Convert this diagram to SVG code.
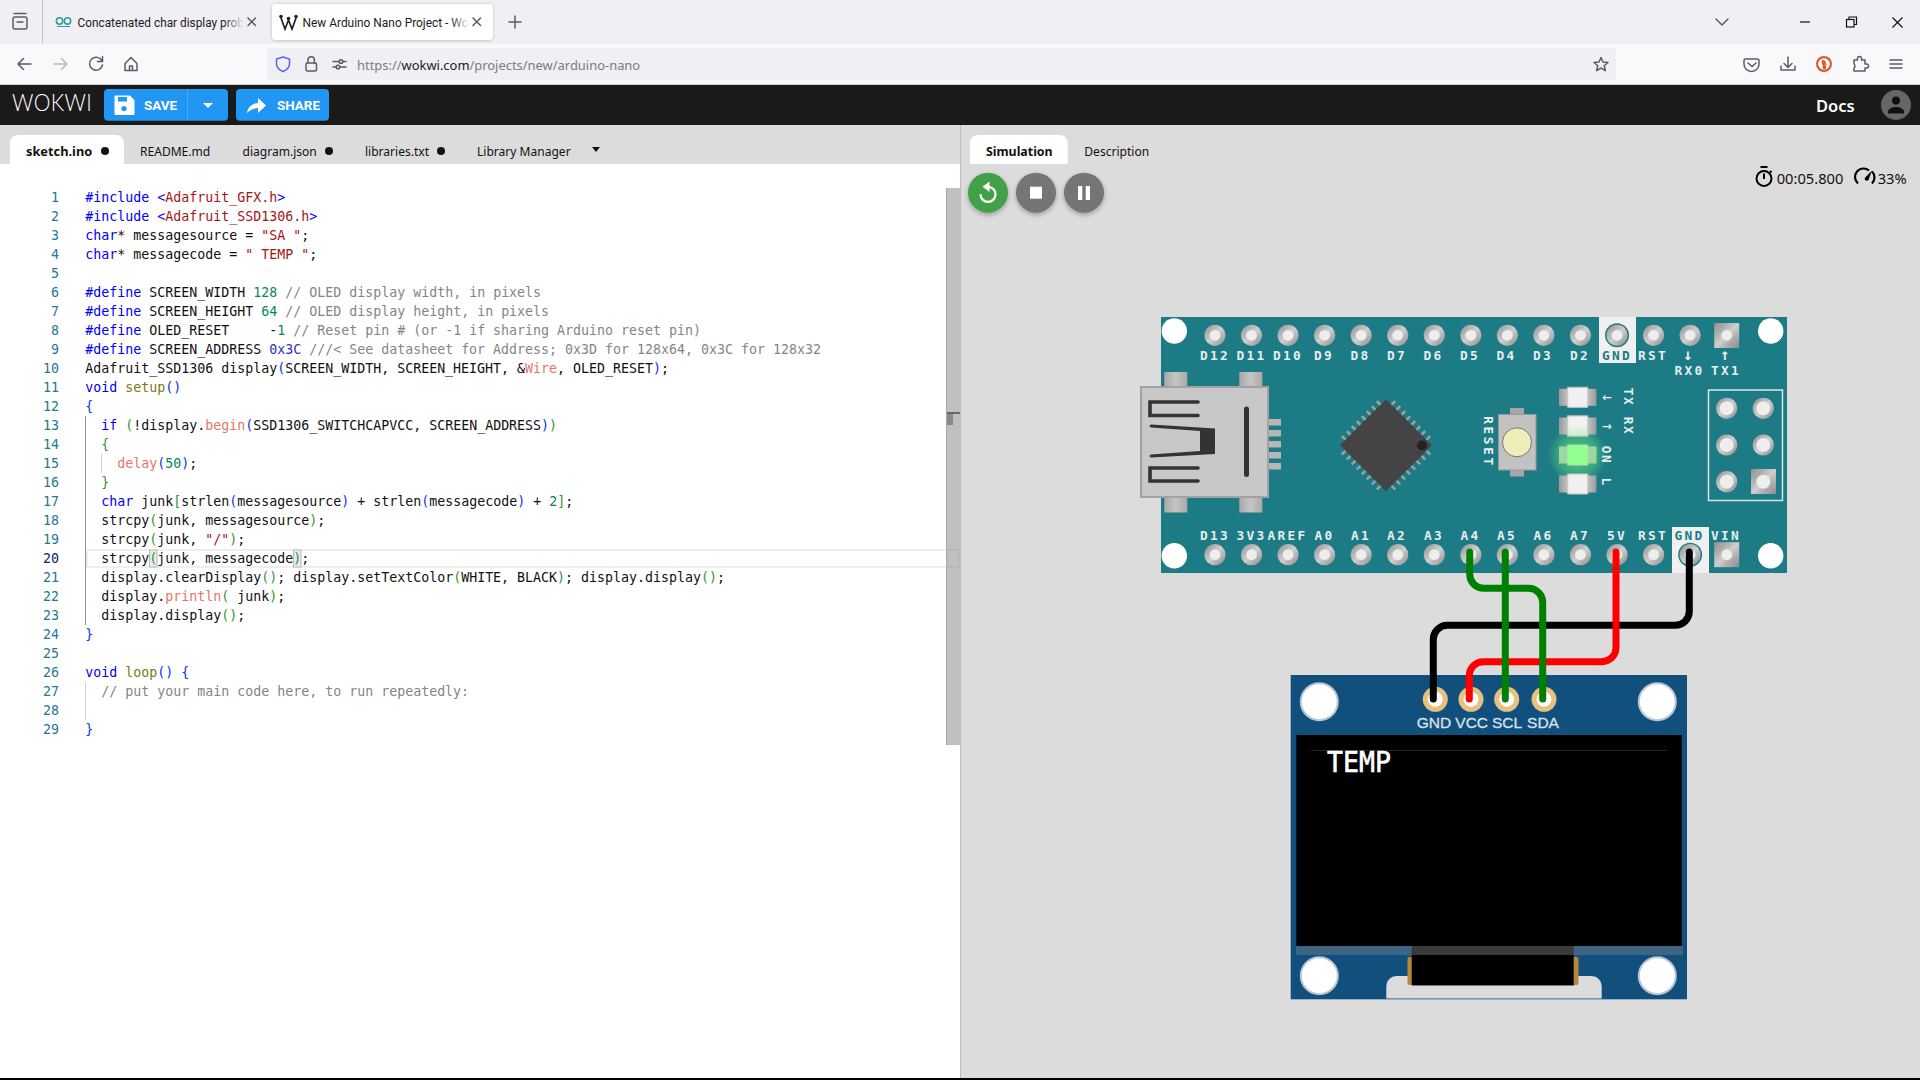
<svg xmlns="http://www.w3.org/2000/svg" width="1920" height="1080" viewBox="0 0 1920 1080">
<style>
.ui{font-family:"Noto Sans","Open Sans",sans-serif}
.tabt{font-family:Roboto,"Noto Sans",sans-serif;font-size:12.6px;fill:#1c1b22}
.wt{font-size:12.05px;fill:#111}
.wb{font-size:12.6px;font-weight:700;fill:#111}
.code{font-family:"DejaVu Sans Mono",monospace;font-size:13.29px;fill:#111;white-space:pre}
.ln{font-family:"DejaVu Sans Mono",monospace;font-size:13.29px;fill:#237893;text-anchor:end}
.k{fill:#0000ff}.s{fill:#a31515}.n{fill:#098658}.c{fill:#858585}.f{fill:#e8756a}.o{fill:#7a7a10}.b1{fill:#0431fa}.b2{fill:#319331}.h{fill:#3030c0}
.pl{font-family:"DejaVu Sans Mono",monospace;font-size:12.8px;font-weight:bold;letter-spacing:2.3px;fill:#e6eeee;text-anchor:middle}
.arw{font-family:"DejaVu Sans Mono",monospace;font-size:16px;fill:#e6eeee;text-anchor:middle}
.ol{font-family:"Liberation Sans",Arial,sans-serif;font-size:15.5px;fill:#d8e2ea;stroke:#d8e2ea;stroke-width:.3;text-anchor:middle}
.ico{fill:none;stroke:#5b5b66;stroke-width:1.5;stroke-linecap:round;stroke-linejoin:round}
.wire{fill:none;stroke-width:7;stroke-linecap:round;stroke-linejoin:round}
.usb{fill:none;stroke:#333;stroke-width:3.6;stroke-linecap:round}
.pad{fill:#e8c080}
.btxt{font-family:Roboto,"Noto Sans",sans-serif;font-size:13.4px;font-weight:bold;fill:#fff}
</style>
<defs>
<linearGradient id="metal" x1="0" y1="0" x2="1" y2="1"><stop offset="0" stop-color="#8e8e8e"/><stop offset=".5" stop-color="#cfcfcf"/><stop offset="1" stop-color="#8a8a8a"/></linearGradient>
<linearGradient id="tabmetal" x1="0" y1="0" x2="1" y2="0"><stop offset="0" stop-color="#a8a8a8"/><stop offset=".5" stop-color="#c6c6c6"/><stop offset="1" stop-color="#a8a8a8"/></linearGradient>
<linearGradient id="capL" x1="0" y1="0" x2="1" y2="0"><stop offset="0" stop-color="#9a9a9a"/><stop offset="1" stop-color="#c8c8c8"/></linearGradient>
<linearGradient id="capR" x1="0" y1="0" x2="1" y2="0"><stop offset="0" stop-color="#c8c8c8"/><stop offset="1" stop-color="#9a9a9a"/></linearGradient>
<linearGradient id="rxfade" x1="0" y1="0" x2="0" y2="1"><stop offset=".45" stop-color="#f2f2f2"/><stop offset="1" stop-color="#c8f0c8"/></linearGradient>
<radialGradient id="glow"><stop offset="0" stop-color="#80ff80" stop-opacity=".6"/><stop offset=".65" stop-color="#80ff80" stop-opacity=".3"/><stop offset="1" stop-color="#80ff80" stop-opacity="0"/></radialGradient>
<linearGradient id="fadeA" x1="0" y1="0" x2="1" y2="0"><stop offset="0" stop-color="#f0f0f4" stop-opacity="0"/><stop offset="1" stop-color="#f0f0f4"/></linearGradient>
<linearGradient id="fadeB" x1="0" y1="0" x2="1" y2="0"><stop offset="0" stop-color="#fff" stop-opacity="0"/><stop offset="1" stop-color="#fff"/></linearGradient>
<filter id="sh" x="-30%" y="-30%" width="160%" height="170%"><feDropShadow dx="0" dy="2" stdDeviation="2.5" flood-color="#000" flood-opacity=".3"/></filter>
<filter id="tsh" x="-5%" y="-20%" width="110%" height="150%"><feDropShadow dx="0" dy="0.5" stdDeviation="1.5" flood-color="#000" flood-opacity=".25"/></filter>
<g id="pin"><circle r="10.6" fill="url(#metal)"/><circle r="5.4" fill="#eeeeee"/></g>
<g id="bigpin"><circle r="10.6" fill="url(#metal)"/><circle r="7" fill="#eeeeee"/></g>
<g id="led"><rect x="-18.7" y="-8.5" width="10" height="17" fill="url(#capL)"/><rect x="8.7" y="-8.5" width="10" height="17" fill="url(#capR)"/><rect x="-10" y="-10" width="20" height="20" fill="#f0f0f0" stroke="#c6c6c6" stroke-width="1"/></g>
<rect id="sqpad" x="-12.5" y="-12.5" width="25" height="25" fill="url(#metal)"/>
</defs>

<!-- page background -->
<rect width="1920" height="1080" fill="#dcdcdc"/>
<rect y="1078" width="1920" height="2" fill="#000"/>

<!-- browser chrome -->
<g id="browser-tabs">
<rect width="1920" height="44" fill="#f0f0f4"/>
<path d="M42.5 0V44" stroke="#c6c6cc" stroke-width="1"/>
<g class="ico"><rect x="13" y="17" width="14" height="12" rx="2"/><path d="M14 13.5H26M17 22H23"/></g>
<g fill="none" stroke="#2a9aa0" stroke-width="1.5"><circle cx="59.5" cy="21" r="3.2"/><circle cx="67.5" cy="21" r="3.2"/></g>
<path d="M57 26.5H70" stroke="#2a9aa0" stroke-width="1"/>
<text x="77.5" y="27" class="tabt" textLength="166.5" lengthAdjust="spacingAndGlyphs">Concatenated char display prob</text>
<rect x="224" y="8" width="20" height="28" fill="url(#fadeA)"/>
<path d="M248 18l7.5 7.5M255.5 18l-7.5 7.5" class="ico"/>
<rect x="272" y="4" width="221" height="36" rx="4" fill="#fff" filter="url(#tsh)"/>
<g fill="none" stroke="#222" stroke-width="1.7"><path d="M281 18L285 29L288.5 20L292 29L296 18"/></g>
<g fill="#222"><circle cx="281" cy="16.5" r="1.8"/><circle cx="288.5" cy="18.5" r="1.8"/><circle cx="296" cy="16.5" r="1.8"/></g>
<text x="302.5" y="27" class="tabt" textLength="166" lengthAdjust="spacingAndGlyphs">New Arduino Nano Project - Wo</text>
<rect x="451" y="8" width="18" height="28" fill="url(#fadeB)"/>
<path d="M473 18l7.5 7.5M480.5 18l-7.5 7.5" class="ico"/>
<path d="M515 16V28M509 22H521" class="ico"/>
<path d="M1716 19l6 6 6-6" class="ico" stroke-width="1.2"/>
<path d="M1800 22H1810" stroke="#111" stroke-width="1.2"/>
<g fill="none" stroke="#111" stroke-width="1.2"><rect x="1846.5" y="19.5" width="7.5" height="7.5"/><path d="M1849 19.5V17H1856.5V24.5H1854"/></g>
<path d="M1892.5 17.5l10 10M1902.5 17.5l-10 10" stroke="#111" stroke-width="1.2"/>
</g>

<g id="browser-toolbar">
<rect y="44" width="1920" height="40" fill="#f9f9fb"/>
<path d="M0 84.5H1920" stroke="#d0d0d4" stroke-width="1"/>
<g class="ico">
<path d="M18 64H31M18 64l5.5-5.5M18 64l5.5 5.5"/>
<path d="M54 64H67M67 64l-5.5-5.5M67 64l-5.5 5.5" stroke="#b8b8bd"/>
<path d="M102 61a6.5 6.5 0 1 0 .5 4M102.5 56.5V61.5H97.5"/>
<path d="M125 63.5L131 57.5L137 63.5V70.5H125ZM129.5 70.5V66H132.5V70.5"/>
</g>
<rect x="267" y="48" width="1349" height="32" rx="4" fill="#f0f0f4"/>
<path d="M283 57l6.5 2v5c0 4-3 6-6.5 7.5c-3.5-1.500-6.5-3.500-6.5-7.5v-5Z" fill="none" stroke="#5a62e8" stroke-width="1.5"/>
<g class="ico"><rect x="306" y="63" width="10.5" height="8" rx="1.5"/><path d="M308 63v-3a3.2 3.2 0 0 1 6.4 0v3"/><path d="M333 61.5H339M343 61.5H346M333 67H336M340 67H346"/><circle cx="341" cy="61.5" r="1.8"/><circle cx="338" cy="67" r="1.8"/></g>
<text x="357" y="70" class="ui" font-size="12.93" fill="#7b7b83">https://<tspan fill="#1c1b22">wokwi.com</tspan>/projects/new/arduino-nano</text>
<path d="M1601 57.5l2 4.5 5 .5-3.800 3.300 1.200 4.900-4.400-2.600-4.400 2.600 1.200-4.900-3.800-3.300 5-.5Z" class="ico"/>
<g class="ico">
<path d="M1746.5 59h11a1.5 1.5 0 0 1 1.5 1.5v3.500a7.5 7.5 0 0 1-15 0v-3.500a1.5 1.5 0 0 1 1.500-1.500ZM1748 63l4 3.500 4-3.500"/>
<path d="M1788 57V67M1784 63.5l4 4 4-4M1781 66v4H1795v-4"/>
<path d="M1854 60h3.500v-1.500a2 2 0 0 1 4 0V60H1865v4h1.500a2 2 0 0 1 0 4H1865v3H1854v-3a2.500 2.500 0 0 0 0-4Z"/>
<path d="M1890 60H1902M1890 64H1902M1890 68H1902"/>
</g>
<circle cx="1824" cy="64" r="8" fill="#de5833"/>
<circle cx="1824" cy="64" r="5.8" fill="#fff"/>
<path d="M1822 60c2.500-.5 4 1 4 3.500V69h-3l-.5-4c-1-2-1.500-3.500-.5-5Z" fill="#de5833"/>
<path d="M1824.5 64.5h2.5" stroke="#f5a623" stroke-width="1.5"/>
</g>

<g id="wokwi-header">
<rect y="85" width="1920" height="40" fill="#1a1a1a"/>
<text x="12" y="111" font-family="Lato,'Noto Sans',sans-serif" font-size="23" fill="#fff" font-weight="300" letter-spacing=".4" textLength="80" lengthAdjust="spacingAndGlyphs">WOKWI</text>
<rect x="104" y="89" width="124" height="31.7" rx="4" fill="#2196f3"/>
<path d="M187.5 89V120.7" stroke="#4aa8f5" stroke-width="1"/>
<path d="M115 96h15l4 4v14.500h-19Z" fill="#fff" stroke="#fff" stroke-width="1" stroke-linejoin="round"/>
<rect x="118" y="97" width="9" height="4.5" fill="#2196f3"/>
<circle cx="124" cy="108.5" r="2.6" fill="#2196f3"/>
<text x="144" y="110" class="btxt">SAVE</text>
<path d="M203 103h10l-5 5Z" fill="#fff"/>
<rect x="236" y="89" width="93" height="31.7" rx="4" fill="#2196f3"/>
<path d="M247 113c1-6 5-9.500 11-10v-5l8 7.500-8 7.500v-5c-4 0-8 2-11 5Z" fill="#fff"/>
<text x="277" y="110" class="btxt">SHARE</text>
<text x="1816" y="111.500" class="ui" font-size="16.5" font-weight="600" fill="#fff">Docs</text>
<circle cx="1896" cy="105" r="15" fill="#666"/>
<circle cx="1896" cy="100.5" r="4" fill="#111"/>
<path d="M1888 112c0-3.500 4-5 8-5s8 1.500 8 5v1.500h-16Z" fill="#111"/>
</g>

<!-- editor -->
<g id="editor-tabs">
<path d="M10 164V143a8 8 0 0 1 8-8h98a8 8 0 0 1 8 8v21Z" fill="#fff"/>
<text x="26" y="156" class="ui wb" style="font-size:12.8px">sketch.ino</text>
<circle cx="105" cy="151" r="4" fill="#111"/>
<text x="140" y="156" class="ui wt">README.md</text>
<text x="242.5" y="156" class="ui wt">diagram.json</text>
<circle cx="329" cy="151" r="4" fill="#111"/>
<text x="365" y="156" class="ui wt">libraries.txt</text>
<circle cx="441" cy="151" r="4" fill="#111"/>
<text x="477" y="156" class="ui wt">Library Manager</text>
<path d="M592 147h8l-4 5Z" fill="#111"/>
</g>
<rect id="editor-bg" y="164" width="960" height="914" fill="#fff"/>
<path d="M960.5 125V1078" stroke="#bdbdbd" stroke-width="1"/>
<g id="editor-decor">
<path d="M85.5 416V625" stroke="#939393" stroke-width="1"/>
<path d="M101.5 454V473" stroke="#d3d3d3" stroke-width="1"/>
<path d="M85.5 682V720" stroke="#d3d3d3" stroke-width="1"/>
<rect x="87" y="550" width="872" height="17" fill="none" stroke="#eeeeee" stroke-width="2"/>
<rect x="149.5" y="550" width="7.5" height="17" fill="#e6ece6" stroke="#b9b9b9" stroke-width="1"/>
<rect x="293.5" y="550" width="7.5" height="17" fill="#e6ece6" stroke="#b9b9b9" stroke-width="1"/>
</g>
<g id="line-numbers">
<text x="59" y="202.3" class="ln">1</text><text x="59" y="221.3" class="ln">2</text><text x="59" y="240.3" class="ln">3</text><text x="59" y="259.3" class="ln">4</text><text x="59" y="278.3" class="ln">5</text><text x="59" y="297.3" class="ln">6</text><text x="59" y="316.3" class="ln">7</text><text x="59" y="335.3" class="ln">8</text><text x="59" y="354.3" class="ln">9</text><text x="59" y="373.3" class="ln">10</text><text x="59" y="392.3" class="ln">11</text><text x="59" y="411.3" class="ln">12</text><text x="59" y="430.3" class="ln">13</text><text x="59" y="449.3" class="ln">14</text><text x="59" y="468.3" class="ln">15</text><text x="59" y="487.3" class="ln">16</text><text x="59" y="506.3" class="ln">17</text><text x="59" y="525.3" class="ln">18</text><text x="59" y="544.3" class="ln">19</text><text x="59" y="563.3" class="ln" style="fill:#0b216f">20</text><text x="59" y="582.3" class="ln">21</text><text x="59" y="601.3" class="ln">22</text><text x="59" y="620.3" class="ln">23</text><text x="59" y="639.3" class="ln">24</text><text x="59" y="658.3" class="ln">25</text><text x="59" y="677.3" class="ln">26</text><text x="59" y="696.3" class="ln">27</text><text x="59" y="715.3" class="ln">28</text><text x="59" y="734.3" class="ln">29</text>
</g>
<g id="code" xml:space="preserve">
<text x="85.3" y="202.3" class="code"><tspan class="k">#include</tspan> <tspan class="k">&lt;</tspan><tspan class="s">Adafruit_GFX.h</tspan><tspan class="k">&gt;</tspan></text>
<text x="85.3" y="221.3" class="code"><tspan class="k">#include</tspan> <tspan class="k">&lt;</tspan><tspan class="s">Adafruit_SSD1306.h</tspan><tspan class="k">&gt;</tspan></text>
<text x="85.3" y="240.3" class="code"><tspan class="k">char</tspan>* messagesource = <tspan class="s">"SA "</tspan>;</text>
<text x="85.3" y="259.3" class="code"><tspan class="k">char</tspan>* messagecode = <tspan class="s">" TEMP "</tspan>;</text>
<text x="85.3" y="297.3" class="code"><tspan class="k">#define</tspan> SCREEN_WIDTH <tspan class="n">128</tspan> <tspan class="c">// OLED display width, in pixels</tspan></text>
<text x="85.3" y="316.3" class="code"><tspan class="k">#define</tspan> SCREEN_HEIGHT <tspan class="n">64</tspan> <tspan class="c">// OLED display height, in pixels</tspan></text>
<text x="85.3" y="335.3" class="code"><tspan class="k">#define</tspan> OLED_RESET     -<tspan class="n">1</tspan> <tspan class="c">// Reset pin # (or -1 if sharing Arduino reset pin)</tspan></text>
<text x="85.3" y="354.3" class="code"><tspan class="k">#define</tspan> SCREEN_ADDRESS <tspan class="h">0x3C</tspan> <tspan class="c">///&lt; See datasheet for Address; 0x3D for 128x64, 0x3C for 128x32</tspan></text>
<text x="85.3" y="373.3" class="code">Adafruit_SSD1306 display<tspan class="b1">(</tspan>SCREEN_WIDTH, SCREEN_HEIGHT, &amp;<tspan class="f">Wire</tspan>, OLED_RESET<tspan class="b1">)</tspan>;</text>
<text x="85.3" y="392.3" class="code"><tspan class="k">void</tspan> <tspan class="o">setup</tspan><tspan class="b1">()</tspan></text>
<text x="85.3" y="411.3" class="code"><tspan class="b1">{</tspan></text>
<text x="85.3" y="430.3" class="code">  <tspan class="k">if</tspan> <tspan class="b2">(</tspan>!display.<tspan class="f">begin</tspan><tspan class="b1">(</tspan>SSD1306_SWITCHCAPVCC, SCREEN_ADDRESS<tspan class="b1">)</tspan><tspan class="b2">)</tspan></text>
<text x="85.3" y="449.3" class="code">  <tspan class="b2">{</tspan></text>
<text x="85.3" y="468.3" class="code">    <tspan class="f">delay</tspan><tspan class="b1">(</tspan><tspan class="n">50</tspan><tspan class="b1">)</tspan>;</text>
<text x="85.3" y="487.3" class="code">  <tspan class="b2">}</tspan></text>
<text x="85.3" y="506.3" class="code">  <tspan class="k">char</tspan> junk<tspan class="b2">[</tspan>strlen<tspan class="b1">(</tspan>messagesource<tspan class="b1">)</tspan> + strlen<tspan class="b1">(</tspan>messagecode<tspan class="b1">)</tspan> + <tspan class="n">2</tspan><tspan class="b2">]</tspan>;</text>
<text x="85.3" y="525.3" class="code">  strcpy<tspan class="b2">(</tspan>junk, messagesource<tspan class="b2">)</tspan>;</text>
<text x="85.3" y="544.3" class="code">  strcpy<tspan class="b2">(</tspan>junk, <tspan class="s">"/"</tspan><tspan class="b2">)</tspan>;</text>
<text x="85.3" y="563.3" class="code">  strcpy<tspan class="b2">(</tspan>junk, messagecode<tspan class="b2">)</tspan>;</text>
<text x="85.3" y="582.3" class="code">  display.clearDisplay<tspan class="b2">()</tspan>; display.setTextColor<tspan class="b2">(</tspan>WHITE, BLACK<tspan class="b2">)</tspan>; display.display<tspan class="b2">()</tspan>;</text>
<text x="85.3" y="601.3" class="code">  display.<tspan class="f">println</tspan><tspan class="b2">(</tspan> junk<tspan class="b2">)</tspan>;</text>
<text x="85.3" y="620.3" class="code">  display.display<tspan class="b2">()</tspan>;</text>
<text x="85.3" y="639.3" class="code"><tspan class="b1">}</tspan></text>
<text x="85.3" y="677.3" class="code"><tspan class="k">void</tspan> <tspan class="o">loop</tspan><tspan class="b1">()</tspan> <tspan class="b1">{</tspan></text>
<text x="85.3" y="696.3" class="code">  <tspan class="c">// put your main code here, to run repeatedly:</tspan></text>
<text x="85.3" y="734.3" class="code"><tspan class="b1">}</tspan></text>
</g>
<g id="scrollbar">
<rect x="946" y="188" width="14" height="557" fill="#c0c0c0"/>
<path d="M946.5 188V745" stroke="#a8a8a8" stroke-width="1"/>
<rect x="947" y="413" width="6" height="12" fill="#8a8a8a"/>
<path d="M947 413H960" stroke="#555" stroke-width="1.6"/>
<rect x="947" y="550" width="12" height="17" fill="none" stroke="#b2b2b2" stroke-width="1"/>
</g>

<!-- simulation header -->
<g id="sim-controls">
<path d="M970 164V143a8 8 0 0 1 8-8h81.7a8 8 0 0 1 8 8v21Z" fill="#fff"/>
<text x="986" y="156" class="ui wb" style="font-size:12.4px">Simulation</text>
<text x="1084.3" y="156" class="ui wt">Description</text>
<circle cx="988" cy="192.7" r="20" fill="#43a047" filter="url(#sh)"/>
<path d="M988 186.8A7.5 7.5 0 1 1 980.5 194.3" fill="none" stroke="#fff" stroke-width="2.3"/>
<path d="M989.5 181.5L982.5 186.8L989.5 192Z" fill="#fff"/>
<circle cx="1036" cy="192.7" r="20" fill="#757575" filter="url(#sh)"/>
<rect x="1030" y="186.7" width="12" height="12" fill="#fff"/>
<circle cx="1084" cy="192.7" r="20" fill="#757575" filter="url(#sh)"/>
<rect x="1078" y="186" width="4.3" height="14" fill="#fff"/><rect x="1085.7" y="186" width="4.3" height="14" fill="#fff"/>
</g>
<g id="sim-status">
<circle cx="1764" cy="178.5" r="7.5" fill="none" stroke="#000" stroke-width="2"/>
<path d="M1760.5 167H1767.5M1764 173.5V179M1770 171l1.5 1.5" stroke="#000" stroke-width="2" fill="none"/>
<text x="1776.7" y="183.5" class="ui" font-size="14.7" fill="#111">00:05.800</text>
<path d="M1858 183.5a8.5 8.5 0 0 1 11-13" fill="none" stroke="#000" stroke-width="2.2"/>
<path d="M1872 171.5a8.5 8.5 0 0 1 0 12" fill="none" stroke="#000" stroke-width="2.2"/>
<path d="M1872 170.5l-3.5 9.5a2.2 2.2 0 0 1-3.8-2Z" fill="#000"/>
<text x="1877.7" y="183.5" class="ui" font-size="14.7" fill="#111">33%</text>
</g>

<!-- Arduino Nano -->
<g id="arduino-nano">
<rect x="1161" y="317" width="626" height="256" fill="#1c7b84"/>
<rect x="1599" y="317" width="37" height="46" fill="#f0f0f0"/>
<rect x="1672" y="527" width="37" height="46" fill="#f0f0f0"/>
<circle cx="1174.3" cy="331" r="12.7" fill="#fff"/><circle cx="1770.7" cy="331" r="12.7" fill="#fff"/>
<circle cx="1174.3" cy="555.7" r="12.7" fill="#fff"/><circle cx="1770.7" cy="555.7" r="12.7" fill="#fff"/>

<g id="usb-connector">
<rect x="1164.3" y="372" width="23" height="15" fill="url(#tabmetal)"/><rect x="1239.3" y="372" width="23" height="15" fill="url(#tabmetal)"/>
<rect x="1164.3" y="497" width="23" height="15.5" fill="url(#tabmetal)"/><rect x="1239.3" y="497" width="23" height="15.5" fill="url(#tabmetal)"/>
<g fill="#b6b6b6"><rect x="1269" y="419" width="12" height="6.5"/><rect x="1269" y="430" width="12" height="6.5"/><rect x="1269" y="441" width="12" height="6.5"/><rect x="1269" y="452" width="12" height="6.5"/><rect x="1269" y="463" width="12" height="6.500"/></g>
<rect x="1141" y="387" width="127" height="110" fill="#c8c8c8" stroke="#a2a2a2" stroke-width="2"/>
<path class="usb" d="M1198 402H1150V415.5H1198M1198 468H1150V481H1198"/>
<path d="M1151 424.500L1215 428.500V454L1151 457.500Q1148 456 1151 454.500L1200 451V431L1151 427.500Q1148 426 1151 424.500Z" fill="#333"/>
<path d="M1246.5 409V474.5" stroke="#333" stroke-width="5" stroke-linecap="round"/>
</g>

<g id="mcu">
<g transform="translate(1386 445.3) rotate(45)">
<g stroke="#a0a0a0" stroke-width="5.5" stroke-dasharray="2.5 4.57" fill="none"><path d="M-26 -35H27"/><path d="M-26 35H27"/><path d="M-35 -26V27"/><path d="M35 -26V27"/></g>
<rect x="-32.5" y="-32.5" width="65" height="65" fill="#444"/>
</g>
<circle cx="1422" cy="445.5" r="5" fill="#222"/>
</g>

<g id="reset-button">
<rect x="1510" y="408" width="14" height="7" fill="#a6a6a6"/><rect x="1510" y="469" width="14" height="7.5" fill="#a6a6a6"/>
<rect x="1498.5" y="414.5" width="37.5" height="55.5" fill="#c2c2c2" stroke="#999" stroke-width="1"/>
<circle cx="1517" cy="442.3" r="14.5" fill="#eeeebb" stroke="#777" stroke-width="1"/>
<text class="pl" transform="translate(1483.5 442) rotate(90)" style="letter-spacing:2.6px">RESET</text>
</g>

<g id="leds">
<circle cx="1577.5" cy="455" r="30" fill="url(#glow)"/>
<use href="#led" x="1577.7" y="397.3"/>
<use href="#led" x="1577.7" y="426"/>
<rect x="1567.7" y="416" width="20" height="20" fill="url(#rxfade)" stroke="#c6c6c6" stroke-width="1"/>
<rect x="1559" y="446.5" width="9" height="17" fill="#9fd89f"/><rect x="1587" y="446.5" width="9.5" height="17" fill="#9fd89f"/>
<rect x="1567.7" y="445" width="20" height="20" fill="#90ff90" stroke="#a8e8a8" stroke-width="1"/>
<use href="#led" x="1577.7" y="484"/>
<g class="pl" style="letter-spacing:1.5px">
<text transform="translate(1623.5 397) rotate(90)">TX</text>
<text transform="translate(1623.5 426) rotate(90)">RX</text>
<text transform="translate(1601.5 455) rotate(90)">ON</text>
<text transform="translate(1601.5 482) rotate(90)">L</text>
</g>
<text x="1607" y="402" class="arw">←</text>
<text x="1607" y="431" class="arw">→</text>
</g>

<g id="top-pins">
<use href="#pin" x="1215" y="335.3"/><use href="#pin" x="1251.55" y="335.3"/><use href="#pin" x="1288.1" y="335.3"/><use href="#pin" x="1324.65" y="335.3"/><use href="#pin" x="1361.2" y="335.3"/><use href="#pin" x="1397.75" y="335.3"/><use href="#pin" x="1434.3" y="335.3"/><use href="#pin" x="1470.85" y="335.3"/><use href="#pin" x="1507.4" y="335.3"/><use href="#pin" x="1543.95" y="335.3"/><use href="#pin" x="1580.5" y="335.3"/>
<circle cx="1617.05" cy="335.3" r="12" fill="#1c7b84"/><use href="#pin" x="1617.05" y="335.3"/>
<use href="#pin" x="1653.6" y="335.3"/><use href="#pin" x="1690.15" y="335.3"/>
<use href="#sqpad" x="1726.7" y="335.5"/><use href="#pin" x="1726.7" y="335.3"/>
<g class="pl">
<text x="1215" y="360">D12</text><text x="1251.5" y="360">D11</text><text x="1288" y="360">D10</text><text x="1324" y="360">D9</text><text x="1360.5" y="360">D8</text><text x="1397" y="360">D7</text><text x="1433.5" y="360">D6</text><text x="1470" y="360">D5</text><text x="1506.5" y="360">D4</text><text x="1543" y="360">D3</text><text x="1580" y="360">D2</text>
<text x="1617" y="360" style="fill:#1c7b84">GND</text><text x="1653" y="360">RST</text>
<text x="1689" y="360" class="arw">↓</text><text x="1726" y="360" class="arw">↑</text>
<text x="1689.5" y="375">RX0</text><text x="1726" y="375">TX1</text>
</g>
</g>

<g id="bottom-pins">
<use href="#pin" x="1215" y="554.7"/><use href="#pin" x="1251.55" y="554.7"/><use href="#pin" x="1288.1" y="554.7"/><use href="#pin" x="1324.65" y="554.7"/><use href="#pin" x="1361.2" y="554.7"/><use href="#pin" x="1397.75" y="554.7"/><use href="#pin" x="1434.3" y="554.7"/><use href="#pin" x="1470.85" y="554.7"/><use href="#pin" x="1507.4" y="554.7"/><use href="#pin" x="1543.95" y="554.7"/><use href="#pin" x="1580.5" y="554.7"/><use href="#pin" x="1617.05" y="554.7"/><use href="#pin" x="1653.6" y="554.7"/>
<circle cx="1690.15" cy="554.7" r="12" fill="#1c7b84"/><use href="#pin" x="1690.15" y="554.7"/>
<use href="#sqpad" x="1726.7" y="554.7"/><use href="#pin" x="1726.7" y="554.7"/>
<g class="pl">
<text x="1215" y="540">D13</text><text x="1251.5" y="540">3V3</text><text x="1287.5" y="540">AREF</text><text x="1324.5" y="540">A0</text><text x="1361" y="540">A1</text><text x="1397" y="540">A2</text><text x="1434" y="540">A3</text><text x="1470.5" y="540">A4</text><text x="1507" y="540">A5</text><text x="1543.5" y="540">A6</text><text x="1580" y="540">A7</text><text x="1617" y="540">5V</text><text x="1653" y="540">RST</text>
<text x="1689.5" y="540" style="fill:#1c7b84">GND</text><text x="1726" y="540">VIN</text>
</g>
</g>

<g id="icsp">
<rect x="1708.5" y="390" width="74" height="110.5" fill="none" stroke="#d8e4e4" stroke-width="1.5"/>
<use href="#bigpin" x="1726.7" y="408.3"/><use href="#bigpin" x="1763.3" y="408.3"/>
<use href="#bigpin" x="1726.7" y="445"/><use href="#bigpin" x="1763.3" y="445"/>
<use href="#bigpin" x="1726.7" y="481.7"/>
<use href="#sqpad" x="1763.5" y="481.5"/><use href="#bigpin" x="1763.3" y="481.7"/>
</g>
</g>

<!-- OLED -->
<g id="oled">
<rect x="1290.7" y="675" width="396.3" height="324.3" fill="#11507d"/>
<circle cx="1319.3" cy="701.7" r="18.5" fill="#fff" stroke="#b9c6d6" stroke-width="2"/>
<circle cx="1657.3" cy="701.7" r="18.5" fill="#fff" stroke="#b9c6d6" stroke-width="2"/>
<circle cx="1319.3" cy="975.7" r="18.5" fill="#fff" stroke="#b9c6d6" stroke-width="2"/>
<circle cx="1657.3" cy="975.7" r="18.5" fill="#fff" stroke="#b9c6d6" stroke-width="2"/>
<circle cx="1435.3" cy="699.3" r="12.5" class="pad"/><circle cx="1435.3" cy="699.3" r="7.5" fill="#fff"/>
<circle cx="1471" cy="699.3" r="12.5" class="pad"/><circle cx="1471" cy="699.3" r="7.5" fill="#fff"/>
<circle cx="1506.7" cy="699.3" r="12.5" class="pad"/><circle cx="1506.7" cy="699.3" r="7.5" fill="#fff"/>
<circle cx="1544" cy="699.3" r="12.5" class="pad"/><circle cx="1544" cy="699.3" r="7.5" fill="#fff"/>
<text x="1434" y="727.5" class="ol">GND</text><text x="1471.7" y="727.5" class="ol">VCC</text><text x="1507" y="727.5" class="ol">SCL</text><text x="1543" y="727.5" class="ol">SDA</text>
<path d="M1386.3 998.5V986a10 10 0 0 1 10-10H1591.7a10 10 0 0 1 10 10V998.5Z" fill="#dcdcdc"/>
<path d="M1296 946H1683V955H1586q-12 0-14 2H1414q-2-2-14-2H1296Z" fill="#3e6484"/>
<rect x="1296.3" y="735" width="385.4" height="211" fill="#000"/>
<path d="M1311 750.5H1667" stroke="#242424" stroke-width="1"/>
<rect x="1411.7" y="946" width="162" height="9" fill="#3a3a3a"/>
<rect x="1407.5" y="957" width="171" height="28" rx="2" fill="#b8863b"/>
<rect x="1411.7" y="955" width="162" height="30" fill="#000"/>
<path d="M1412 985.5H1574" stroke="#777" stroke-width="1"/>
<text x="1327" y="771.7" font-family="'DejaVu Sans Mono',monospace" font-size="28.8" fill="#fff" stroke="#fff" stroke-width=".6" textLength="64" lengthAdjust="spacingAndGlyphs">TEMP</text>
</g>

<!-- connectors -->
<g id="connectors">
<path class="wire" stroke="#000000" d="M1689.3 552V611.3a14 14 0 0 1-14 14H1447.3a14 14 0 0 0-14 14V699"/>
<path class="wire" stroke="#ff0000" d="M1616 552V647.7a14 14 0 0 1-14 14H1483.3a14 14 0 0 0-14 14V699"/>
<path class="wire" stroke="#008000" d="M1469.7 552V574.3a14 14 0 0 0 14 14H1528.7a14 14 0 0 1 14 14V699"/>
<path class="wire" stroke="#008000" d="M1505.3 552V699"/>
</g>
</svg>
